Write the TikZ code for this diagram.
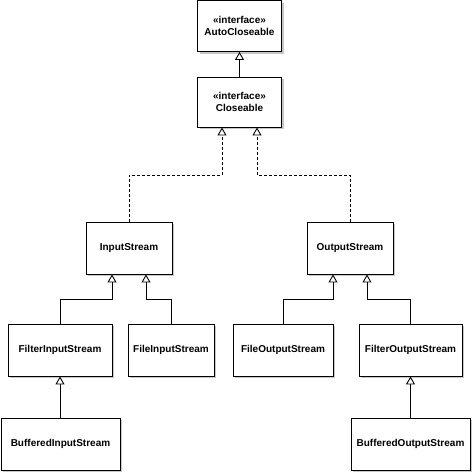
\documentclass[tikz,border=0pt]{standalone}
\usepackage{fontspec}
\setmainfont{Liberation Sans}
\usetikzlibrary{arrows.meta,shadows}
\begin{document}
\begin{tikzpicture}[x=1pt,y=-1pt,
  cls/.style={draw=black, line width=0.9pt, fill=white, rectangle, inner sep=0pt,
    font=\fontsize{10}{12.5}\selectfont\bfseries, align=center,
    drop shadow={shadow xshift=2pt, shadow yshift=-2pt, fill=black!22, opacity=1}},
  gen/.style={line width=0.9pt, -{Triangle[open, width=9pt, length=8pt, line width=0.9pt]}},
  real/.style={gen, dashed, dash pattern=on 3pt off 2pt}]
\useasboundingbox (0,0) rectangle (474,474);
\node[cls, minimum width=84pt, minimum height=51pt] (ac) at (239.5,26) {«interface»\\AutoCloseable};
\node[cls, minimum width=84pt, minimum height=50pt] (cl) at (239.5,102) {«interface»\\Closeable};
\node[cls, minimum width=86pt, minimum height=52pt] (is) at (129,248) {InputStream};
\node[cls, minimum width=86pt, minimum height=52pt] (os) at (350,248) {OutputStream};
\node[cls, minimum width=104pt, minimum height=52pt] (fis) at (60,350) {FilterInputStream};
\node[cls, minimum width=86pt, minimum height=52pt] (fi) at (171,350) {FileInputStream};
\node[cls, minimum width=100pt, minimum height=52pt] (fo) at (283,350) {FileOutputStream};
\node[cls, minimum width=103pt, minimum height=52pt] (ffo) at (410.5,350) {FilterOutputStream};
\node[cls, minimum width=119pt, minimum height=52pt] (bis) at (60.5,444) {BufferedInputStream};
\node[cls, minimum width=119pt, minimum height=52pt] (bos) at (410.5,444) {BufferedOutputStream};
\draw[gen] (cl.north) -- (ac.south);
\draw[real] (is.north) -- (129,175) -| ([xshift=-17.5pt]cl.south);
\draw[real] (os.north) -- (350,175) -| ([xshift=17.5pt]cl.south);
\draw[gen] (fis.north) -- (60,299) -| ([xshift=-17pt]is.south);
\draw[gen] (fi.north) -- (171,299) -| ([xshift=17pt]is.south);
\draw[gen] (fo.north) -- (283,299) -| ([xshift=-17pt]os.south);
\draw[gen] (ffo.north) -- (410.5,299) -| ([xshift=17pt]os.south);
\draw[gen] (bis.north -| fis.south) -- (fis.south);
\draw[gen] (bos.north) -- (ffo.south);
\end{tikzpicture}
\end{document}
